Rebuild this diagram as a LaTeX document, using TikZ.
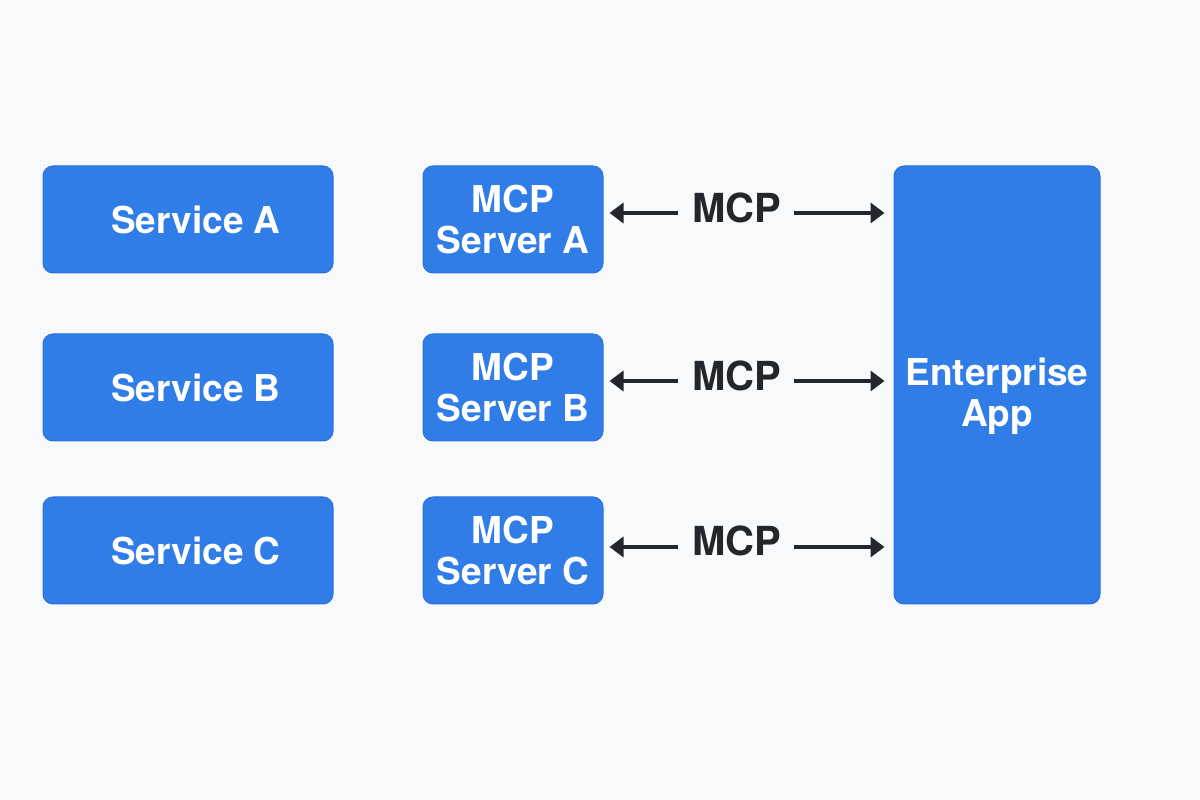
\documentclass[tikz,border=0pt]{standalone}
\usepackage{fontspec}
\setmainfont{TeX Gyre Heros}
\usetikzlibrary{calc,arrows.meta}
\definecolor{bg}{HTML}{F8F9FB}
\definecolor{boxblue}{HTML}{317DE7}
\definecolor{boxedge}{HTML}{2A70E0}
\definecolor{ink}{HTML}{23272D}
\tikzset{
  box/.style={draw=boxedge, line width=1pt, fill=boxblue, rounded corners=10pt, text=white,
    font=\fontsize{37}{41}\selectfont\bfseries, align=center, inner sep=0pt},
  lbl/.style={text=ink, font=\fontsize{40}{44}\selectfont\bfseries, inner sep=0pt},
  arr/.style={draw=ink, line width=3.5pt, -{Triangle[length=14pt,width=20pt]}}
}
\begin{document}
\begin{tikzpicture}[x=1pt,y=1pt]
\fill[bg] (0,0) rectangle (1200,800);
\useasboundingbox (0,0) rectangle (1200,800);
% services
\node[box, minimum width=290pt, minimum height=107pt] (sA) at (188,580.5) {\hspace*{16pt}Service A};
\node[box, minimum width=290pt, minimum height=107pt] (sB) at (188,412.5) {\hspace*{16pt}Service B};
\node[box, minimum width=290pt, minimum height=107pt] (sC) at (188,249.5) {\hspace*{16pt}Service C};
% MCP servers
\node[box, minimum width=180pt, minimum height=107pt] (mA) at (513,580.5) {MCP\\Server A};
\node[box, minimum width=180pt, minimum height=107pt] (mB) at (513,412.5) {MCP\\Server B};
\node[box, minimum width=180pt, minimum height=107pt] (mC) at (513,249.5) {MCP\\Server C};
% enterprise app
\node[box, minimum width=206pt, minimum height=438pt] (app) at (997,415)
  {\raisebox{-19pt}[0pt][0pt]{\begin{tabular}{@{}c@{}}Enterprise\\App\end{tabular}}};
% labels
\node[lbl] (lA) at (737,592) {MCP};
\node[lbl] (lB) at (737,424) {MCP};
\node[lbl] (lC) at (737,259) {MCP};
\coordinate (yA) at (0,587);
\coordinate (yB) at (0,419);
\coordinate (yC) at (0,253);
% arrows
\foreach \r in {A,B,C}{
  \draw[arr] ($(l\r.west |- y\r)+(-14pt,0)$) -- ($(m\r.east |- y\r)+(6pt,0)$);
  \draw[arr] ($(l\r.east |- y\r)+(12pt,0)$) -- ($(app.west |- y\r)+(-9pt,0)$);
}
\end{tikzpicture}
\end{document}
